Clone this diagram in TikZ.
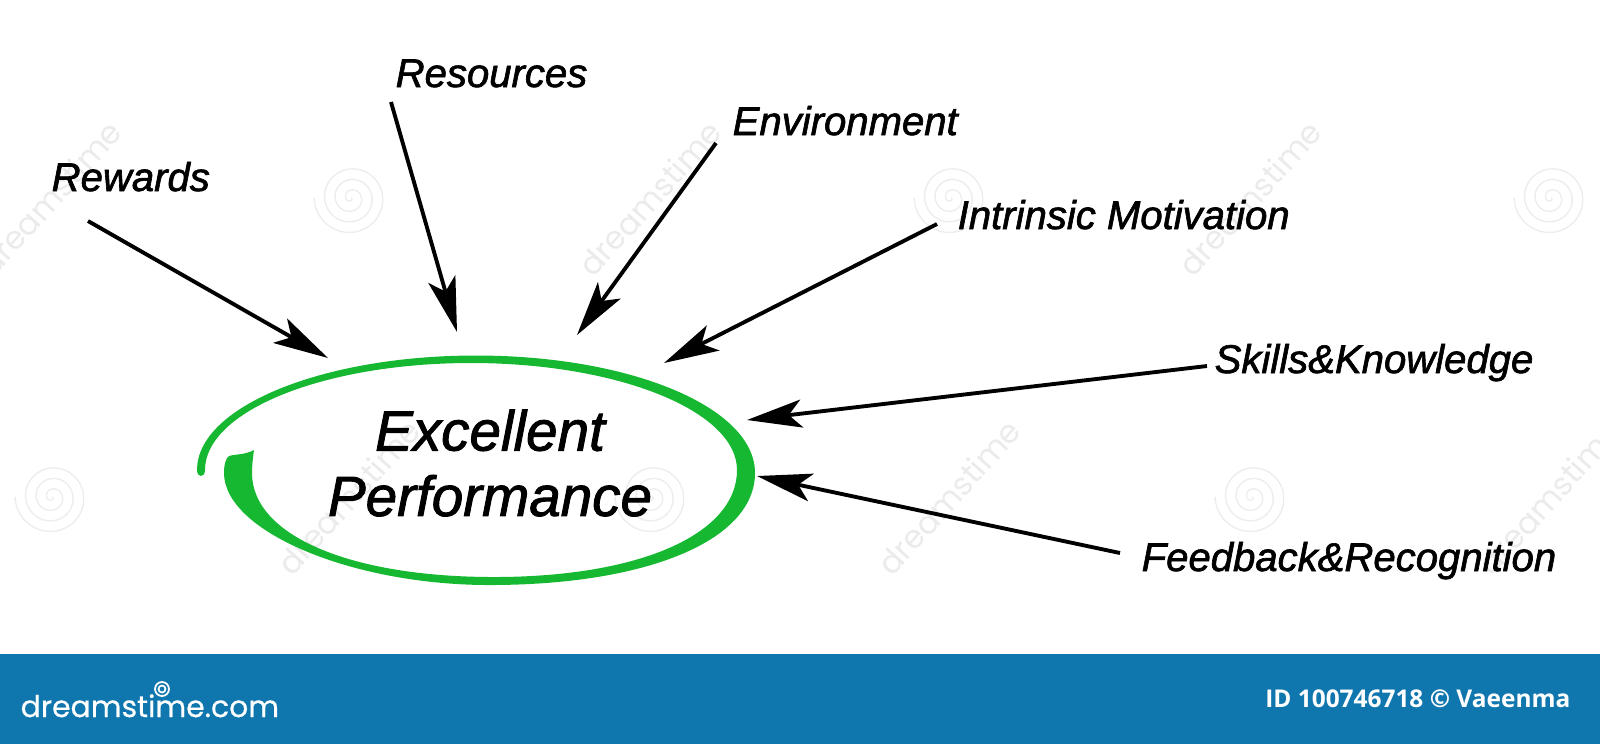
\documentclass[tikz,border=0pt]{standalone}
\usepackage{fontspec}
\setmainfont{Liberation Sans}[ItalicFeatures={FakeBold=1.6}]
\newfontfamily\bandfont{Poppins}[FakeBold=0.6]
\newfontfamily\stampfont{Poppins}
\newfontfamily\idfont{Open Sans}
\usetikzlibrary{arrows.meta}
\definecolor{ringgreen}{HTML}{16B832}
\definecolor{bandblue}{HTML}{1076AE}
\tikzset{
	reason/.style={anchor=base west, inner sep=0pt, font=\itshape\fontsize{11.4}{14}\selectfont},
	pointer/.style={line width=1.1pt, -{Stealth[length=0.55cm, width=0.28cm, inset=0.13cm]}},
	stamp/.style={black!7, line width=0.4pt}
}
\begin{document}
\begin{tikzpicture}[x=0.01cm, y=-0.01cm]
	\useasboundingbox (0,0) rectangle (1600,744);
	% Wasserzeichen
	\foreach \wmx/\wmy in {351/198, 951/198, 1551/198, 52/497, 652/497, 1252/497} {
		\draw [stamp, domain=0:1260, samples=140, smooth] plot ({\wmx+\x/1260*37*cos(\x)}, {\wmy+\x/1260*37*sin(\x)});
	}
	\foreach \wmx/\wmy in {50/198, 650/198, 1250/198, 349/497, 949/497, 1549/497} {
		\node [text=black!8, rotate=48, inner sep=0pt, font=\stampfont\fontsize{9}{9}\selectfont] (stamp\wmx) at (\wmx,\wmy) {dreamstime};
	}
	% Ring: aussen, Kopf, innen, Spitze
	\fill [ringgreen] (197,470)
		.. controls (197,407) and (322,355.5) .. (476,355.5)
		.. controls (630,355.5) and (755,407) .. (755,473)
		.. controls (755,540) and (648,585) .. (489.5,585)
		.. controls (351,585) and (224,531) .. (224,473)
		.. controls (224,464) and (226,458) .. (229,456)
		.. controls (235,454) and (245,455) .. (254,450)
		.. controls (253,457) and (252,465) .. (252,473)
		.. controls (252,535) and (349,577) .. (494,577)
		.. controls (640,577) and (737,534) .. (737,470)
		.. controls (737,411) and (618,363) .. (471,363)
		.. controls (324,363) and (205,411) .. (205,470)
		.. controls (205,478) and (197,478) .. (197,470) -- cycle;
	\node [align=center, inner sep=0pt, font=\itshape\fontsize{16.1}{18.6}\selectfont] (goal) at (490,463) {Excellent\\Performance};
	% Beschriftungen
	\node [reason] (rewards) at (51,191) {Rewards};
	\node [reason] (resources) at (395,87) {Resources};
	\node [reason] (environment) at (732,135) {Environment};
	\node [reason] (intrinsic) at (957,229) {Intrinsic Motivation};
	\node [reason] (skills) at (1214,373) {Skills\&Knowledge};
	\node [reason] (feedback) at (1141,571) {Feedback\&Recognition};
	% Pfeilspitzen am Ring
	\coordinate (rewardsTip) at (328,358);
	\coordinate (resourcesTip) at (457,332);
	\coordinate (environmentTip) at (577,335);
	\coordinate (intrinsicTip) at (664,363);
	\coordinate (skillsTip) at (747,420);
	\coordinate (feedbackTip) at (757,476);
	% Pfeile
	\draw [pointer] ([shift={(37,30)}]rewards.base west) -- (rewardsTip);
	\draw [pointer] ([shift={(-4,15)}]resources.base west) -- (resourcesTip);
	\draw [pointer] ([shift={(-16,8)}]environment.base west) -- (environmentTip);
	\draw [pointer] ([shift={(-20,-5)}]intrinsic.base west) -- (intrinsicTip);
	\draw [pointer] ([shift={(-7,-7)}]skills.base west) -- (skillsTip);
	\draw [pointer] ([shift={(-21,-18)}]feedback.base west) -- (feedbackTip);
	% Band
	\fill [bandblue] (0,654) rectangle (1600,744);
	\node [anchor=base west, inner sep=0pt, text=white, font=\bandfont\fontsize{8.5}{12}\selectfont] (site) at (20,717) {dreamstime.com};
	\node [anchor=base east, inner sep=0pt, text=white, font=\idfont\bfseries\fontsize{6.95}{10}\selectfont] (credit) at (1571,707) {ID 100746718 © Vaeenma};
	\draw [white, line width=0.5pt] (162,689) circle (7) (162,689) circle (3.5);
\end{tikzpicture}
\end{document}
